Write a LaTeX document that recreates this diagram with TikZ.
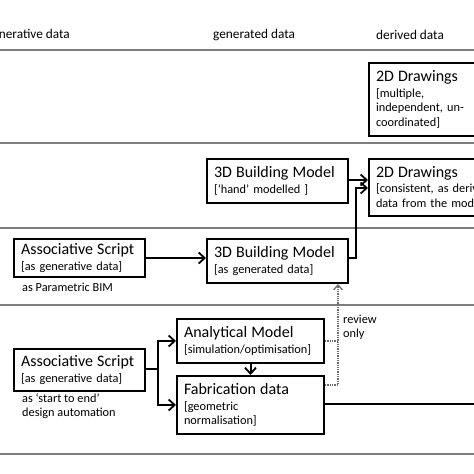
\documentclass[tikz,border=0pt]{standalone}
\usepackage{fontspec}
\setmainfont{Carlito}
\usepackage{tikz}
\usetikzlibrary{arrows.meta}
\definecolor{rulegray}{RGB}{125,125,125}
\definecolor{dotgray}{RGB}{110,110,110}
\newcommand{\ttl}[1]{{\fontsize{16}{19}\selectfont #1}}
\tikzset{
    box/.style={draw, line width=2pt, anchor=north west, inner xsep=7pt, inner ysep=1pt,
        align=left, font=\fontsize{12.3}{14.5}\selectfont},
    head/.style={anchor=west, inner sep=0pt, font=\fontsize{13.3}{15}\selectfont},
    note/.style={anchor=west, inner sep=0pt, align=left, font=\fontsize{12.3}{14}\selectfont},
    lane/.style={rulegray, line width=1.3pt},
    flow/.style={line width=2pt, -{Straight Barb[length=6pt, width=11pt, line width=1.8pt]}},
    review/.style={dotgray, densely dotted, line width=1.3pt},
}

\begin{document}
\begin{tikzpicture}[x=1pt, y=-1pt]
      \useasboundingbox (0,0) rectangle (474,474);
      \fill[white] (0,0) rectangle (474,474);
      \clip (0,0) rectangle (474,474);

      % column heads
      \node[head, anchor=east] (h-gen) at (70,35) {generative data};
      \node[head] (h-gend) at (213,35) {generated data};
      \node[head] (h-der) at (376,35) {derived data};

      % lanes
      \foreach \y in {50,143,228,305,454}
          \draw[lane] (0,\y) -- (474,\y);

      % boxes
      \node[box, minimum height=73pt, text width=140pt] (draw-multi) at (368,62)
          {\ttl{2D Drawings}\\[1pt]{[}multiple,\\independent, un-\\coordinated{]}};
      \node[box, minimum height=44pt, text width=127pt] (bim-hand) at (206,158)
          {\ttl{3D Building Model}\\[1pt]{[}‘hand’ modelled {]}};
      \node[box, minimum height=57pt, text width=140pt] (draw-cons) at (368,158)
          {\ttl{2D Drawings}\\[1pt]{[}consistent, as derived\\data from the model{]}};
      \node[box, minimum height=38pt, text width=117pt] (script-a) at (13,238)
          {\ttl{Associative Script}\\[1pt]{[}as generative data{]}};
      \node[box, minimum height=44pt, text width=127pt] (bim-gen) at (206,238)
          {\ttl{3D Building Model}\\[1pt]{[}as generated data{]}};
      \node[box, minimum height=42pt, text width=117pt] (script-b) at (13,348)
          {\ttl{Associative Script}\\[1pt]{[}as generative data{]}};
      \node[box, minimum height=44pt, text width=133pt] (analysis) at (176,318)
          {\ttl{Analytical Model}\\[1pt]{[}simulation/optimisation{]}};
      \node[box, minimum height=58pt, text width=133pt] (fab) at (176,375)
          {\ttl{Fabrication data}\\[1pt]{[}geometric\\normalisation{]}};

      % notes
      \node[note] (note-a) at (22,287) {as Parametric BIM};
      \node[note, anchor=north west] (note-b) at (22,393) {as ‘start to end’\\design automation};
      \node[note, anchor=north west] (note-review) at (343,315) {review\\only};

      \coordinate (split) at (158,369);
      \coordinate (riser) at (356,258);
      \coordinate (tap) at (338,385);
      \coordinate (fab-out) at (474,404);

      % connectors
      \draw[flow] (script-a.east |- 0,258) -- (bim-gen.west |- 0,258);
      \draw[flow] (bim-hand.east |- 0,180) -- (draw-cons.west |- 0,180);
      \draw[flow] (bim-gen.east |- riser) -- (riser) -- (riser |- 0,188) -- (draw-cons.west |- 0,188);
      \draw[line width=2pt] (script-b.east |- split) -- (split);
      \draw[flow] (split) |- (analysis.west);
      \draw[flow] (split) |- (fab.west);
      \draw[flow] (analysis.south) -- (fab.north);
      \draw[line width=2pt] (fab.east |- fab-out) -- (fab-out);

      \draw[review] (analysis.east) -- (analysis.east -| tap);
      \draw[review, -{Straight Barb[length=5pt, width=9pt]}] (fab.east |- tap) -- (tap) -- (tap |- bim-gen.south);
\end{tikzpicture}
\end{document}
